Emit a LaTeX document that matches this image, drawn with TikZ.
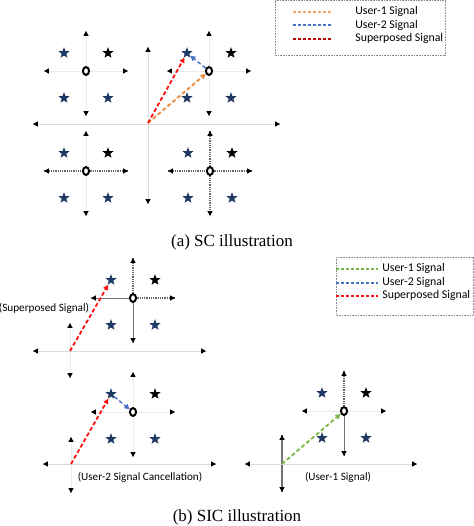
\documentclass[tikz,border=0pt]{standalone}
\usepackage{fontspec}
\setmainfont{Liberation Serif}
\newfontfamily\carl{Carlito}
\usetikzlibrary{arrows.meta,shapes.geometric}
\definecolor{navy}{HTML}{1F3864}
\definecolor{sigred}{HTML}{FF1010}
\definecolor{legred}{HTML}{C00000}
\definecolor{sigorange}{HTML}{E98A3C}
\definecolor{legorange}{HTML}{F2A66A}
\definecolor{sigblue}{HTML}{4472C4}
\definecolor{siggreen}{HTML}{7AB648}
\tikzset{
  tipu/.pic={\fill[black] (0,0) -- (-2.6,4.8) -- (2.6,4.8) -- cycle;},
  tipd/.pic={\fill[black] (0,0) -- (-2.6,-4.8) -- (2.6,-4.8) -- cycle;},
  tipl/.pic={\fill[black] (0,0) -- (4.8,-2.6) -- (4.8,2.6) -- cycle;},
  tipr/.pic={\fill[black] (0,0) -- (-4.8,-2.6) -- (-4.8,2.6) -- cycle;},
  faint/.style={draw=black!8, line width=0.4pt},
  dotl/.style={draw=black!60, line width=0.55pt, dash pattern=on 0.45pt off 0.45pt},
  soll/.style={draw=black!55, line width=0.5pt},
  mainax/.style={draw=black!14, line width=0.4pt},
  mainsol/.style={draw=black!55, line width=0.6pt},
  starn/.style={shape=star, star points=5, star point ratio=2.4, fill=navy, inner sep=0pt, minimum size=5.8pt},
  starblk/.style={starn, fill=black},
  omark/.style={shape=ellipse, draw=black, fill=white, line width=1pt, minimum width=3.1pt, minimum height=3.9pt, inner sep=0pt},
  sig/.style={line width=0.9pt, dash pattern=on 2pt off 1.2pt, -{Triangle[length=2.6pt,width=2.6pt]}},
  legline/.style={line width=0.6pt, dash pattern=on 1.6pt off 0.9pt},
  legtext/.style={anchor=west, inner sep=0pt, font=\carl\fontsize{5.9}{7}\selectfont},
  lbl/.style={inner sep=0pt, font=\carl\fontsize{5.6}{6.5}\selectfont},
  captext/.style={inner sep=0pt, font=\fontsize{8.5}{10}\selectfont},
  legbox/.style={draw=black!45, line width=0.4pt, dash pattern=on 0.4pt off 0.4pt}
}
% #1 name, #2 centre, #3 up, #4 down, #5 left, #6 right
\newcommand{\constel}[6]{%
  \begin{scope}[shift={#2}]
    \coordinate (#1) at (0,0);
    \coordinate (#1-u) at (0,-40);
    \coordinate (#1-d) at (0,45);
    \coordinate (#1-l) at (-42,0);
    \coordinate (#1-r) at (42,0);
    \draw[#3] (#1) -- (#1-u);
    \draw[#4] (#1) -- (#1-d);
    \draw[#5] (#1) -- (#1-l);
    \draw[#6] (#1) -- (#1-r);
    \pic at (#1-u) {tipu};
    \pic at (#1-d) {tipd};
    \pic at (#1-l) {tipl};
    \pic at (#1-r) {tipr};
    \node[starn] (#1-s1) at (-22,-18) {};
    \node[starblk] (#1-s2) at (22,-18) {};
    \node[starn] (#1-s3) at (-22,27) {};
    \node[starn] (#1-s4) at (22,27) {};
    \node[omark] (#1-o) at (0,0) {};
  \end{scope}}
% cross of main axes: #1 top, #2 bottom, #3 left, #4 right, #5 vstyle, #6 hstyle
\newcommand{\mainaxes}[6]{%
  \draw[#5] (#1) -- (#2);
  \draw[#6] (#3) -- (#4);
  \pic at (#1) {tipu};
  \pic at (#2) {tipd};
  \pic at (#3) {tipl};
  \pic at (#4) {tipr};}
\begin{document}
\begin{tikzpicture}[x=0.5pt,y=-0.5pt]
\useasboundingbox (0,0) rectangle (474,526);

% ---------- (a) ----------
\coordinate (aO) at (148,123);
\coordinate (aT) at (148,47);
\coordinate (aB) at (148,204);
\coordinate (aL) at (33,124);
\coordinate (aR) at (280,124);
\mainaxes{aT}{aB}{aL}{aR}{mainax}{mainax}

\constel{atl}{(86,71)}{faint}{faint}{faint}{faint}
\constel{atr}{(209,71)}{faint}{faint}{faint}{faint}
\constel{abl}{(86,171)}{faint}{faint}{dotl}{dotl}
\constel{abr}{(210,171)}{dotl}{dotl}{dotl}{dotl}

\draw[sig, sigorange] (aO) -- (atr-o);
\draw[sig, sigred] (aO) -- (atr-s1);
\draw[sig, sigblue, line width=0.7pt] (atr-o) -- (atr-s1);

% legend (a)
\draw[legbox] (275,0.5) rectangle (445,55);
\coordinate (la1s) at (293,12); \coordinate (la1e) at (332,12);
\coordinate (la2s) at (293,25); \coordinate (la2e) at (332,25);
\coordinate (la3s) at (293,39); \coordinate (la3e) at (332,39);
\draw[legline, legorange] (la1s) -- (la1e);
\draw[legline, sigblue, line width=0.6pt] (la2s) -- (la2e);
\draw[legline, legred, line width=0.9pt] (la3s) -- (la3e);
\node[legtext] (lat1) at (355,11.5) {User-1 Signal};
\node[legtext] (lat2) at (355,25) {User-2 Signal};
\node[legtext] (lat3) at (355,38) {Superposed Signal};

\node[captext] (capa) at (232,242) {(a) SC illustration};

% ---------- (b) top ----------
\coordinate (bO1) at (70,351);
\coordinate (b1T) at (70,323);
\coordinate (b1B) at (70,378);
\coordinate (b1L) at (33,351);
\coordinate (b1R) at (206,351);
\mainaxes{b1T}{b1B}{b1L}{b1R}{faint}{mainax}
\constel{bt}{(133,298)}{dotl}{soll}{soll}{dotl}
\draw[sig, sigred] (bO1) -- (bt-s1);
\node[lbl] (lsup) at (44,308) {(Superposed Signal)};

% legend (b)
\draw[legbox] (336,257) rectangle (473,315);
\coordinate (lb1s) at (336,269); \coordinate (lb1e) at (378,269);
\coordinate (lb2s) at (336,283); \coordinate (lb2e) at (378,283);
\coordinate (lb3s) at (336,296); \coordinate (lb3e) at (378,296);
\draw[legline, siggreen] (lb1s) -- (lb1e);
\draw[legline, sigblue, line width=0.6pt] (lb2s) -- (lb2e);
\draw[legline, sigred, line width=0.9pt] (lb3s) -- (lb3e);
\node[legtext] (lbt1) at (382,268.5) {User-1 Signal};
\node[legtext] (lbt2) at (382,282) {User-2 Signal};
\node[legtext] (lbt3) at (382,295.5) {Superposed Signal};

% ---------- (b) bottom left ----------
\coordinate (bO2) at (71,464);
\coordinate (b2T) at (71,437);
\coordinate (b2B) at (71,493);
\coordinate (b2L) at (43,464);
\coordinate (b2R) at (216,464);
\mainaxes{b2T}{b2B}{b2L}{b2R}{faint}{mainax}
\constel{bbl}{(133,412)}{faint}{faint}{faint}{faint}
\draw[sig, sigred] (bO2) -- (bbl-s1);
\draw[sig, sigblue, line width=0.7pt] (bbl-s1) -- (bbl-o);
\node[lbl] (lcan) at (140,477) {(User-2 Signal Cancellation)};

% ---------- (b) bottom right ----------
\coordinate (bO3) at (282,464);
\coordinate (b3T) at (282,435);
\coordinate (b3B) at (282,492);
\coordinate (b3L) at (245,464);
\coordinate (b3R) at (417,464);
\mainaxes{b3T}{b3B}{b3L}{b3R}{mainsol}{mainax}
\constel{bbr}{(344,411)}{dotl}{soll}{faint}{faint}
\draw[sig, siggreen] (bO3) -- (bbr-o);
\node[lbl] (lu1) at (338,477) {(User-1 Signal)};

\node[captext] (capb) at (237,517) {(b) SIC illustration};
\end{tikzpicture}
\end{document}
